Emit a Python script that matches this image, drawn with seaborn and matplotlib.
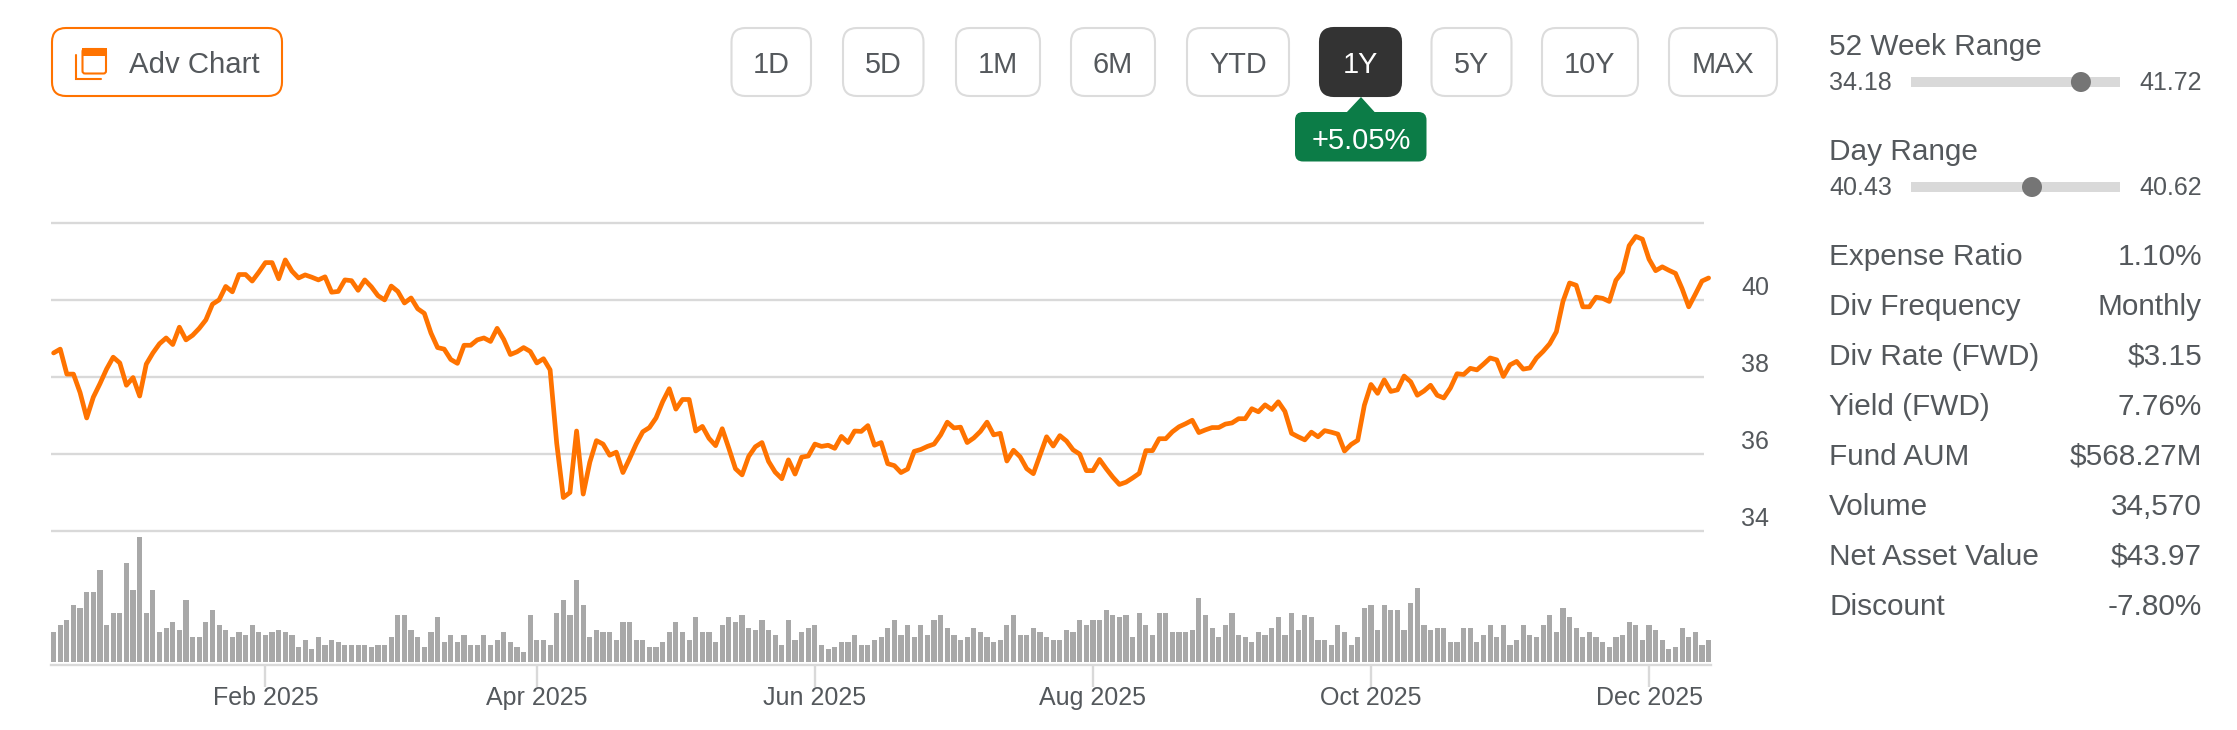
# fund overview widget: price line, volume bars, range buttons and key stats panel
import numpy as np
import pandas as pd
import matplotlib
matplotlib.use('Agg')
import matplotlib.pyplot as plt
import seaborn as sns
from matplotlib.patches import FancyBboxPatch, Polygon, Circle, Rectangle
from matplotlib.transforms import Affine2D

# daily close
closes = [
    38.62, 38.72, 38.07, 38.07, 37.59, 36.93, 37.47, 37.82, 38.20, 38.51, 38.36, 37.78, 37.98, 37.50, 38.33, 38.62,
    38.86, 39.01, 38.84, 39.29, 38.96, 39.08, 39.26, 39.48, 39.89, 40.00, 40.35, 40.21, 40.66, 40.66, 40.49, 40.72,
    40.97, 40.97, 40.55, 41.04, 40.75, 40.57, 40.65, 40.59, 40.52, 40.60, 40.20, 40.22, 40.52, 40.50, 40.25, 40.52,
    40.34, 40.11, 40.00, 40.36, 40.22, 39.92, 40.05, 39.77, 39.65, 39.14, 38.76, 38.72, 38.45, 38.35, 38.82, 38.82,
    38.96, 39.01, 38.92, 39.26, 38.97, 38.58, 38.65, 38.76, 38.66, 38.36, 38.47, 38.18, 36.27, 34.86, 34.99, 36.59,
    34.95, 35.78, 36.34,
    36.25, 35.96, 36.04, 35.51, 35.87, 36.25, 36.57, 36.68, 36.93, 37.35, 37.69, 37.16, 37.41, 37.41, 36.59, 36.71,
    36.40, 36.21, 36.65, 36.14, 35.61, 35.45, 35.93, 36.18, 36.29, 35.80, 35.52, 35.35, 35.84, 35.47, 35.91, 35.94,
    36.25, 36.19, 36.22, 36.14, 36.45, 36.29, 36.59, 36.58, 36.73, 36.22, 36.29, 35.74, 35.69, 35.51, 35.60, 36.06,
    36.11, 36.19, 36.25, 36.49, 36.82, 36.67, 36.69, 36.29, 36.41, 36.58, 36.82, 36.49, 36.53, 35.81, 36.09, 35.92,
    35.61, 35.48, 35.96, 36.44, 36.20, 36.47, 36.33, 36.10, 35.99, 35.56, 35.56, 35.85, 35.61, 35.39, 35.20, 35.26,
    35.37, 35.49, 36.08, 36.08, 36.39, 36.39, 36.57, 36.70,
    36.78, 36.87, 36.55, 36.62, 36.68, 36.68, 36.77, 36.80, 36.91, 36.91, 37.17, 37.09, 37.27, 37.15, 37.35, 37.10,
    36.53, 36.44, 36.36, 36.56, 36.44, 36.60, 36.56, 36.51, 36.07, 36.24, 36.35, 37.26, 37.80, 37.57, 37.92, 37.62,
    37.66, 38.02, 37.87, 37.52, 37.63, 37.78, 37.52, 37.45, 37.71, 38.08, 38.06, 38.22, 38.18, 38.33, 38.49, 38.44,
    38.01, 38.31, 38.40, 38.20, 38.23, 38.49, 38.66, 38.86, 39.17, 39.96, 40.44, 40.38, 39.82, 39.82, 40.07, 40.04,
    39.96, 40.51, 40.73, 41.41, 41.65, 41.58, 41.06, 40.76, 40.86, 40.77, 40.69, 40.29, 39.82, 40.15, 40.49, 40.57,
]

# daily volume in thousands of shares
volumes_k = [
    44, 55, 62, 84.5, 80.5, 103, 103, 136, 55, 73, 73, 147, 106.5, 184.5, 73, 106.5, 44, 51, 58.5, 47.5, 91.5, 36.5,
    36.5, 58.5, 77, 55, 47.5, 36.5, 44, 40, 55, 44, 40, 44, 47.5, 44, 40, 22, 32.5, 18.5, 36.5, 25.5, 32.5, 29, 25.5,
    25.5, 25.5, 25.5, 22, 25.5, 25.5, 36.5, 69.5, 69.5, 47.5, 36.5, 22, 44, 66, 29, 40, 29, 40, 25.5, 25.5, 40, 25.5,
    32.5, 44, 29, 22, 14.5, 69.5, 32.5, 32.5, 25.5, 73, 91.5, 69.5, 121, 84.5, 36.5, 47.5,
    44, 44, 32.5, 58.5, 58.5, 32.5, 32.5, 22, 22, 29, 44, 58.5, 44, 32.5, 66, 44, 44, 29, 55, 66, 58.5, 69.5, 51, 47.5,
    62, 47.5, 40, 25.5, 62, 32.5, 44, 51, 55, 25.5, 18.5, 22, 29, 29, 40, 25.5, 25.5, 32.5, 36.5, 51, 62, 40, 55, 36.5,
    55, 40, 62, 69.5, 51, 40, 32.5, 36.5, 51, 44, 36.5, 29, 32.5, 55, 69.5, 40, 40, 51, 44, 36.5, 32.5, 32.5, 47.5, 44,
    62, 55, 62, 62, 77, 69.5, 66, 69.5, 36.5, 73, 55, 40, 73, 73, 44, 44,
    44, 47.5, 95, 69.5, 51, 36.5, 55, 73, 40, 36.5, 29, 44, 40, 51, 66, 40, 73, 47.5, 69.5, 66, 32.5, 32.5, 25.5, 55,
    44, 25.5, 36.5, 80.5, 84.5, 47.5, 84.5, 77, 77, 47.5, 88, 110, 55, 47.5, 51, 51, 29, 29, 51, 51, 29, 40, 55, 36.5,
    55, 25.5, 32.5, 55, 40, 36.5, 55, 69.5, 44, 80.5, 66, 51, 36.5, 44, 36.5, 29, 22, 36.5, 40, 58.5, 55, 32.5, 55,
    47.5, 32.5, 18.5, 22, 51, 36.5, 44, 25.5, 32.5,
]

month_ticks = [32, 73, 115, 157, 199, 241]
month_labels = ['Feb 2025', 'Apr 2025', 'Jun 2025', 'Aug 2025', 'Oct 2025', 'Dec 2025']
grid_levels = [34, 36, 38, 40, 42]
price_ticks = [34, 36, 38, 40]

range_labels = ['1D', '5D', '1M', '6M', 'YTD', '1Y', '5Y', '10Y', 'MAX']
active_range = '1Y'
range_change = '+5.05%'

week_low, week_high, week_pos = 34.18, 41.72, 40.31
day_low, day_high, day_pos = 40.43, 40.62, 40.54

stat_labels = ['Expense Ratio', 'Div Frequency', 'Div Rate (FWD)', 'Yield (FWD)',
               'Fund AUM', 'Volume', 'Net Asset Value', 'Discount']
stat_values = ['1.10%', 'Monthly', '$3.15', '7.76%', '$568.27M', '34,570', '$43.97', '-7.80%']

ORANGE = '#ff7300'
GRID = '#d9d9d9'
TEXT = '#54585c'
W, H = 2237, 730

sns.set_theme(style='white')
plt.rcParams['font.family'] = ['Liberation Sans', 'DejaVu Sans']

df = pd.DataFrame({'day': np.arange(len(closes)), 'close': closes, 'volume': volumes_k})

fig = plt.figure(figsize=(W / 100, H / 100), dpi=100, facecolor='white')


def axes_px(left, top, right, bottom):
    return fig.add_axes([left / W, 1 - bottom / H, (right - left) / W, (bottom - top) / H])


# day index -> pixel: first point at 53.6, 6.62 px per session, axis runs 51..1711
x_range = ((51 - 53.6) / 6.62, (1711 - 53.6) / 6.62)

# price panel
ax_price = axes_px(51, 223, 1711, 530.6)
ax_price.patch.set_alpha(0)
ax_price.hlines(grid_levels, 0, 1653 / 1660, transform=ax_price.get_yaxis_transform(),
                color=GRID, lw=1.7, clip_on=False, zorder=1)
sns.lineplot(data=df, x='day', y='close', ax=ax_price, color=ORANGE, lw=3.4, errorbar=None,
             solid_joinstyle='round', solid_capstyle='round', zorder=3, clip_on=False)
ax_price.set_xlim(*x_range)
ax_price.set_ylim(34, 42)
ax_price.set_xticks([])
ax_price.yaxis.tick_right()
ax_price.set_yticks(price_ticks, [str(t) for t in price_ticks])
ax_price.tick_params(axis='y', length=0, pad=21.6, labelsize=18, labelcolor=TEXT)
ax_price.set_xlabel('')
ax_price.set_ylabel('')
# the labels sit above their grid line
for tick in ax_price.yaxis.get_major_ticks():
    tick.label2.set_transform(tick.label2.get_transform() + Affine2D().translate(0, 14.5))
for spine in ax_price.spines.values():
    spine.set_visible(False)

# volume panel
ax_vol = axes_px(51, 532, 1711, 664.5)
ax_vol.patch.set_alpha(0)
sns.barplot(data=df, x='day', y='volume', ax=ax_vol, native_scale=True, color='#a8a8a8',
            width=0.78, saturation=1, linewidth=0, errorbar=None)
ax_vol.set_xlim(*x_range)
ax_vol.set_ylim(-3.7, 192.3)
ax_vol.set_yticks([])
ax_vol.set_xticks(month_ticks, month_labels)
ax_vol.tick_params(axis='x', length=15.8, width=1.7, color=GRID, pad=0, labelsize=18, labelcolor=TEXT, bottom=True)
ax_vol.set_xlabel('')
ax_vol.set_ylabel('')
for name, spine in ax_vol.spines.items():
    spine.set_visible(name == 'bottom')
ax_vol.spines['bottom'].set_color(GRID)
ax_vol.spines['bottom'].set_linewidth(1.7)

# everything outside the plots is laid out in pixels
ui = fig.add_axes([0, 0, 1, 1], zorder=-1)
ui.set_xlim(0, W)
ui.set_ylim(H, 0)
ui.axis('off')


def rbox(x0, y0, x1, y1, radius, **kw):
    ui.add_patch(FancyBboxPatch((x0, y0), x1 - x0, y1 - y0,
                                boxstyle=f'round,pad=0,rounding_size={radius}', **kw))


def label(x, y, s, size=21.4, color=TEXT, ha='left'):
    ui.text(x, y - 1.3, s, fontsize=size, color=color, ha=ha, va='center_baseline')


# adv chart button
rbox(52, 28, 282, 96, 14, fc='white', ec=ORANGE, lw=1.5)
ui.plot([76, 76, 101], [55, 78.5, 78.5], color=ORANGE, lw=1.5, solid_joinstyle='miter')
rbox(82.5, 49, 106, 73.5, 2.5, fc='white', ec=ORANGE, lw=1.5)
ui.add_patch(Rectangle((82, 48), 25, 7.5, fc=ORANGE, ec='none'))
label(129, 63, 'Adv Chart', size=21.2)

# range buttons
button_spans = [(731.5, 811), (843, 923.5), (956, 1040), (1071, 1155), (1187, 1289),
                (1320, 1401), (1431.5, 1511.5), (1542, 1638), (1669, 1777)]
for name, (x0, x1) in zip(range_labels, button_spans):
    active = name == active_range
    rbox(x0, 28, x1, 96, 14, fc='#333333' if active else 'white', ec='#333333' if active else '#dcdcdc', lw=1.5)
    label((x0 + x1) / 2, 63, name, size=20.8, color='white' if active else TEXT, ha='center')

# change badge under the active button
badge_green = '#0c7c47'
ui.add_patch(Polygon([(1346, 113), (1361, 97), (1375.5, 113)], fc=badge_green, ec='none'))
rbox(1295, 112, 1426.5, 161.5, 8, fc=badge_green, ec='none')
label(1361, 139, range_change, size=21, color='white', ha='center')

# 52 week and day ranges
sliders = [('52 Week Range', week_low, week_high, week_pos, 45, 82),
           ('Day Range', day_low, day_high, day_pos, 150, 187)]
for title, low, high, pos, y_title, y_bar in sliders:
    label(1829, y_title, title)
    label(1829, y_bar, f'{low:.2f}', size=18)
    label(2202, y_bar, f'{high:.2f}', size=18, ha='right')
    ui.add_patch(Rectangle((1911, y_bar - 5), 209, 10, fc='#d9d9d9', ec='none'))
    ui.add_patch(Circle((1911 + 209 * (pos - low) / (high - low), y_bar), 10, fc='#757575', ec='none'))

# stats table
for i, (name, value) in enumerate(zip(stat_labels, stat_values)):
    y = 255 + 50 * i
    label(1829, y, name)
    label(2202, y, value, ha='right')

fig.savefig('out.png', dpi=100, facecolor='white')
plt.close(fig)
